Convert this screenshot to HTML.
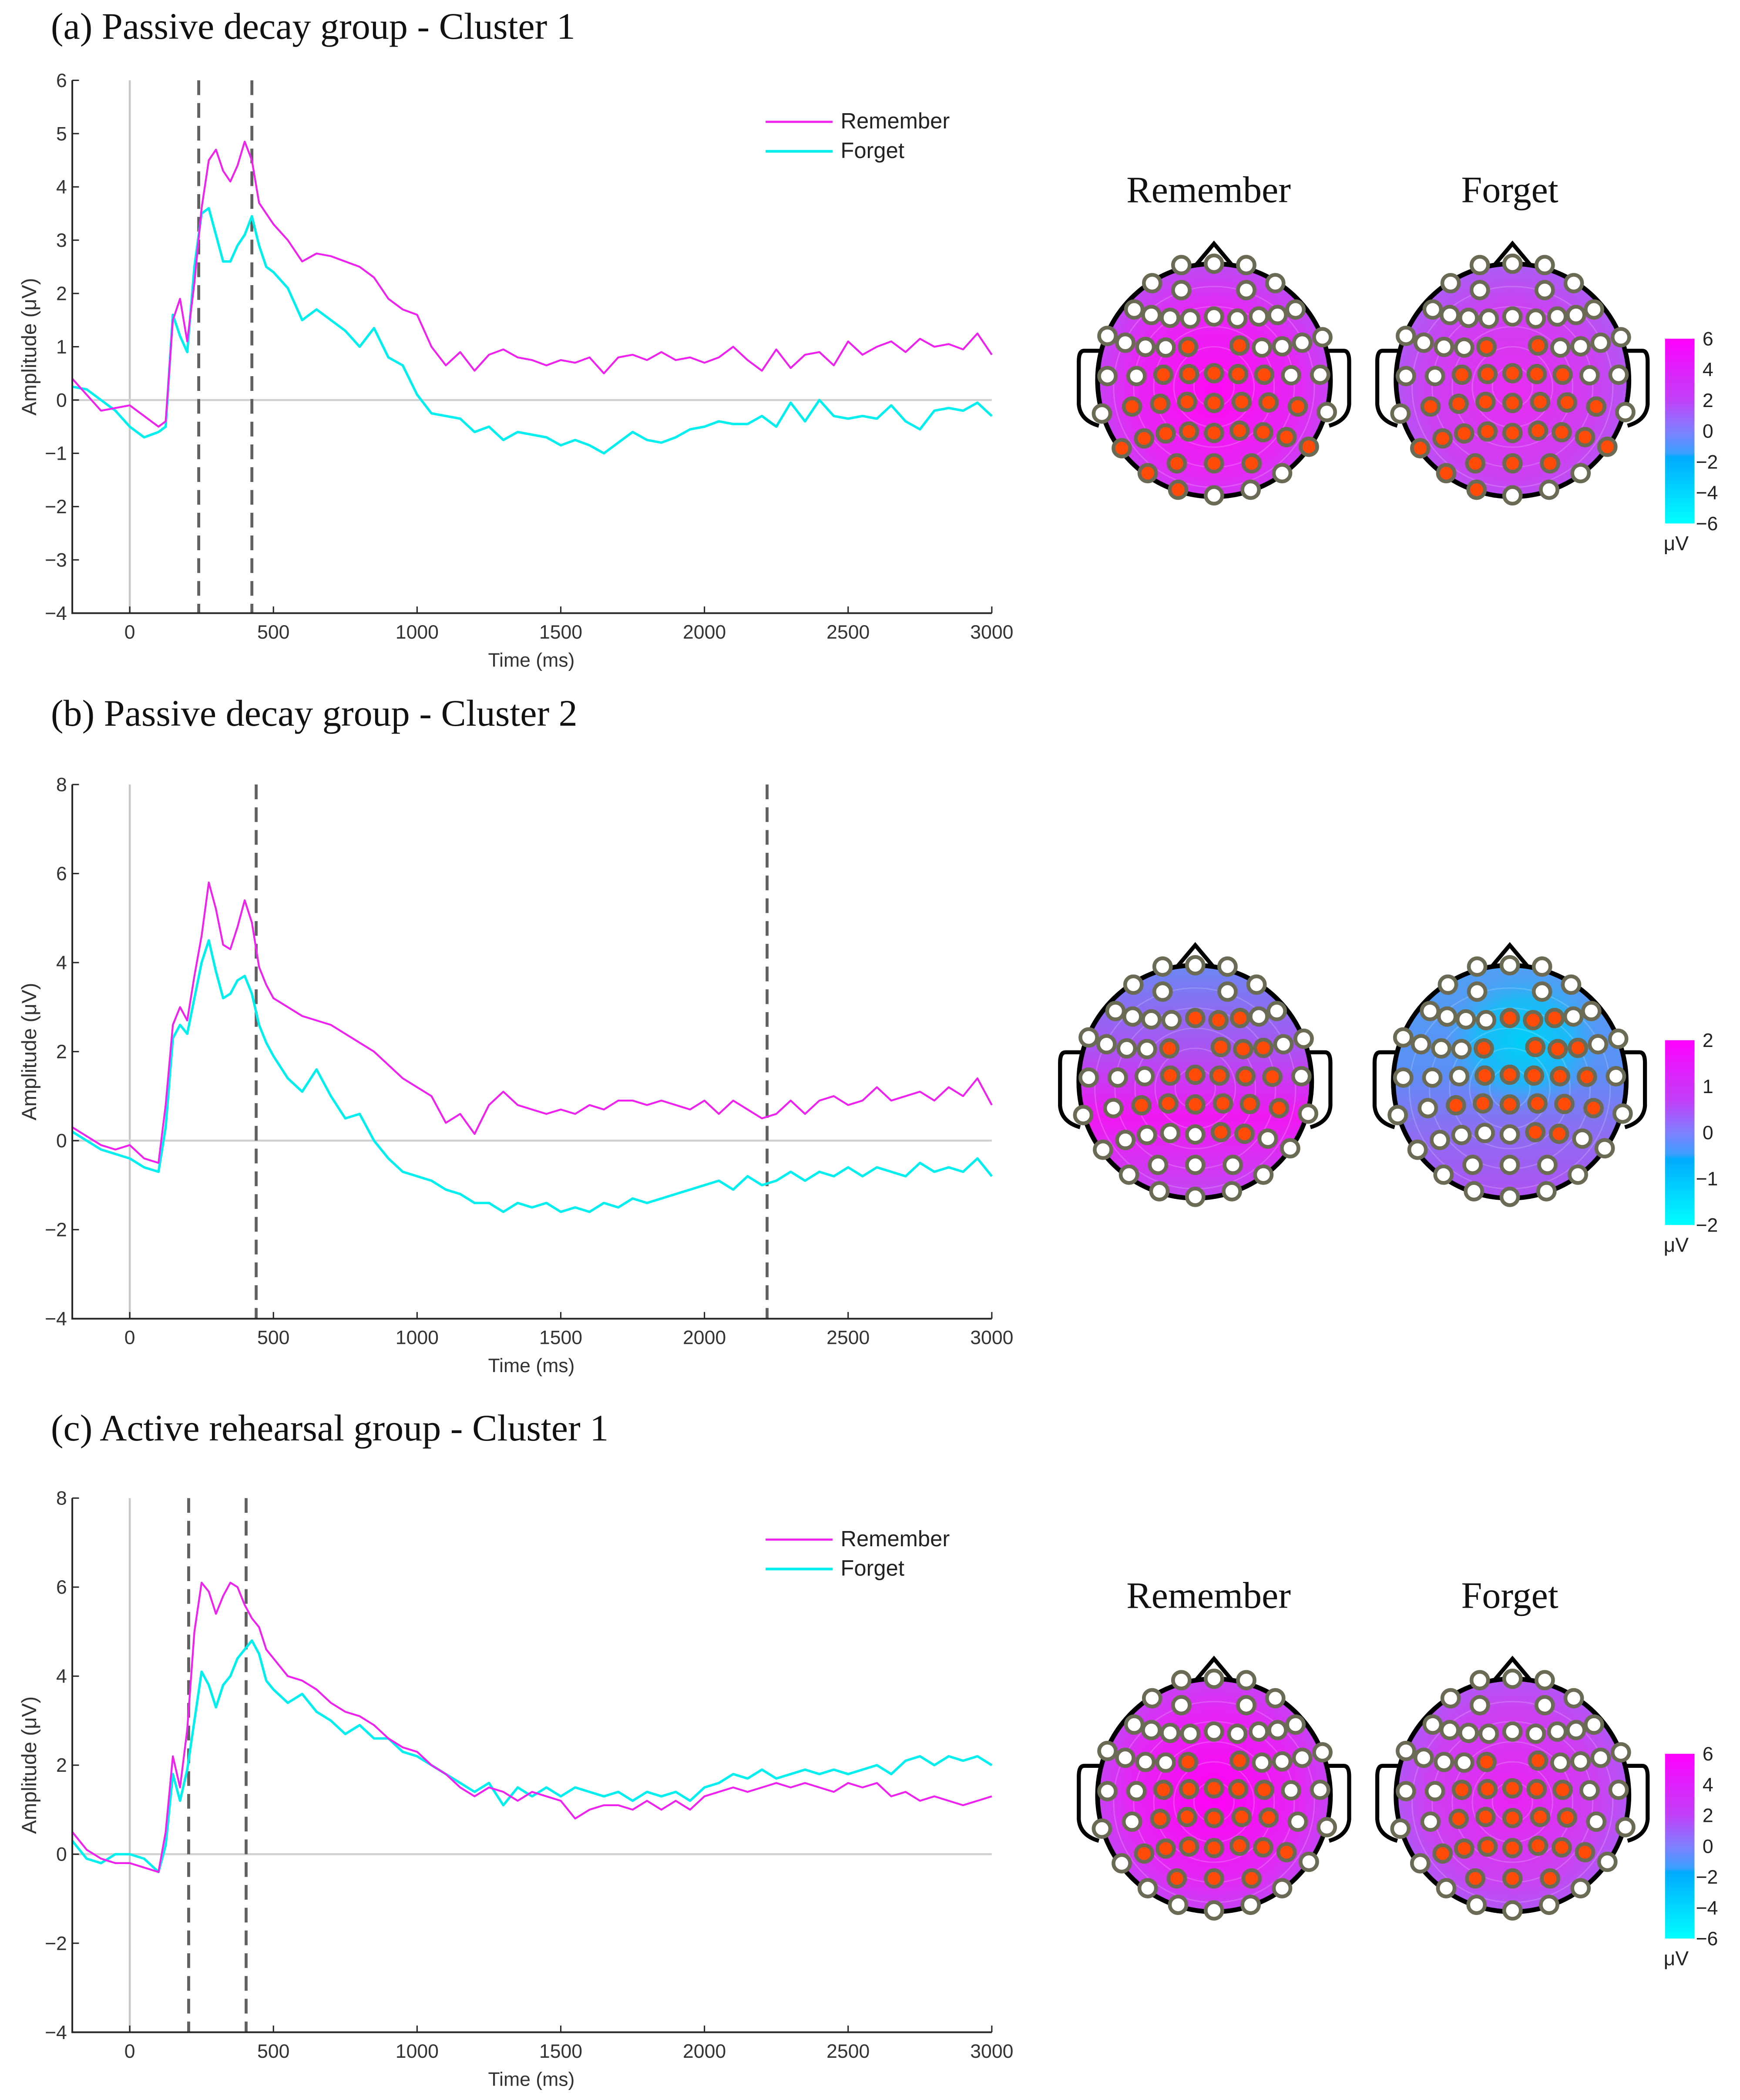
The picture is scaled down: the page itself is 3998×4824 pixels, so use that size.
<!DOCTYPE html>
<html><head><meta charset="utf-8"><style>
html,body{margin:0;padding:0;background:#fff;}
svg{display:block;}
</style></head><body>
<svg id="fig" xmlns="http://www.w3.org/2000/svg" width="3998" height="4824" viewBox="0 0 1300 1568.6">
<defs>
<linearGradient id="cbar" x1="0" y1="0" x2="0" y2="1">
<stop offset="0" stop-color="#ff00ff"/><stop offset="0.33" stop-color="#c040f8"/><stop offset="0.5" stop-color="#8080ff"/><stop offset="0.62" stop-color="#3aa0ff"/><stop offset="0.64" stop-color="#00aaff"/><stop offset="1" stop-color="#00ffff"/>
</linearGradient>
<radialGradient id="gA1" cx="0.5" cy="0.55" r="0.6"><stop offset="0" stop-color="#ff08f4"/><stop offset="0.6" stop-color="#e428f4"/><stop offset="1" stop-color="#b055f2"/></radialGradient>
<radialGradient id="gA2" cx="0.5" cy="0.55" r="0.6"><stop offset="0" stop-color="#e82cf2"/><stop offset="0.6" stop-color="#cc40f2"/><stop offset="1" stop-color="#a266f4"/></radialGradient>
<linearGradient id="gB1" x1="0" y1="0" x2="0" y2="1"><stop offset="0" stop-color="#6a88f2"/><stop offset="0.35" stop-color="#a855f2"/><stop offset="0.65" stop-color="#f018f2"/><stop offset="1" stop-color="#c048f2"/></linearGradient>
<linearGradient id="gB2" x1="0" y1="0" x2="0" y2="1"><stop offset="0" stop-color="#50a0f4"/><stop offset="0.45" stop-color="#5a90f4"/><stop offset="0.7" stop-color="#8a70f2"/><stop offset="1" stop-color="#b050f2"/></linearGradient>
<radialGradient id="gB2c" cx="0.5" cy="0.5" r="0.5"><stop offset="0" stop-color="#00d0f8" stop-opacity="1"/><stop offset="0.6" stop-color="#10c0f8" stop-opacity="0.8"/><stop offset="1" stop-color="#30b0f8" stop-opacity="0"/></radialGradient>
<radialGradient id="gC1" cx="0.5" cy="0.5" r="0.6"><stop offset="0" stop-color="#ff00f4"/><stop offset="0.6" stop-color="#e426f4"/><stop offset="1" stop-color="#b055f2"/></radialGradient>
<radialGradient id="gC2" cx="0.5" cy="0.5" r="0.6"><stop offset="0" stop-color="#ea22f2"/><stop offset="0.6" stop-color="#cc40f2"/><stop offset="1" stop-color="#a066f6"/></radialGradient>
</defs>
</svg>
<script>
// ---- data ----
const times = [-200,-150,-100,-50,0,50,100,125,150,175,200,225,250,275,300,325,350,375,400,425,450,475,500,550,600,650,700,750,800,850,900,950,1000,1050,1100,1150,1200,1250,1300,1350,1400,1450,1500,1550,1600,1650,1700,1750,1800,1850,1900,1950,2000,2050,2100,2150,2200,2250,2300,2350,2400,2450,2500,2550,2600,2650,2700,2750,2800,2850,2900,2950,3000];
const rememberA = [0.4,0.1,-0.2,-0.15,-0.1,-0.3,-0.5,-0.4,1.5,1.9,1.1,2.2,3.6,4.5,4.7,4.3,4.1,4.4,4.85,4.5,3.7,3.5,3.3,3.0,2.6,2.75,2.7,2.6,2.5,2.3,1.9,1.7,1.6,1.0,0.65,0.9,0.55,0.85,0.95,0.8,0.75,0.65,0.75,0.7,0.8,0.5,0.8,0.85,0.75,0.9,0.75,0.8,0.7,0.8,1.0,0.75,0.55,0.95,0.6,0.85,0.9,0.65,1.1,0.85,1.0,1.1,0.9,1.15,1.0,1.05,0.95,1.25,0.85];
const forgetA = [0.25,0.2,0.0,-0.2,-0.5,-0.7,-0.6,-0.5,1.6,1.2,0.9,2.5,3.5,3.6,3.1,2.6,2.6,2.9,3.1,3.45,2.9,2.5,2.4,2.1,1.5,1.7,1.5,1.3,1.0,1.35,0.8,0.65,0.1,-0.25,-0.3,-0.35,-0.6,-0.5,-0.75,-0.6,-0.65,-0.7,-0.85,-0.75,-0.85,-1.0,-0.8,-0.6,-0.75,-0.8,-0.7,-0.55,-0.5,-0.4,-0.45,-0.45,-0.3,-0.5,-0.05,-0.4,0.0,-0.3,-0.35,-0.3,-0.35,-0.1,-0.4,-0.55,-0.2,-0.15,-0.2,-0.05,-0.3];
const rememberB = [0.3,0.1,-0.1,-0.2,-0.1,-0.4,-0.5,0.8,2.6,3.0,2.7,3.7,4.6,5.8,5.2,4.4,4.3,4.8,5.4,4.9,3.9,3.5,3.2,3.0,2.8,2.7,2.6,2.4,2.2,2.0,1.7,1.4,1.2,1.0,0.4,0.6,0.15,0.8,1.1,0.8,0.7,0.6,0.7,0.6,0.8,0.7,0.9,0.9,0.8,0.9,0.8,0.7,0.9,0.6,0.9,0.7,0.5,0.6,0.9,0.6,0.9,1.0,0.8,0.9,1.2,0.9,1.0,1.1,0.9,1.2,1.0,1.4,0.8];
const forgetB = [0.2,0.0,-0.2,-0.3,-0.4,-0.6,-0.7,0.3,2.3,2.6,2.4,3.2,4.0,4.5,3.8,3.2,3.3,3.6,3.7,3.3,2.6,2.2,1.9,1.4,1.1,1.6,1.0,0.5,0.6,0.0,-0.4,-0.7,-0.8,-0.9,-1.1,-1.2,-1.4,-1.4,-1.6,-1.4,-1.5,-1.4,-1.6,-1.5,-1.6,-1.4,-1.5,-1.3,-1.4,-1.3,-1.2,-1.1,-1.0,-0.9,-1.1,-0.8,-1.0,-0.9,-0.7,-0.9,-0.7,-0.8,-0.6,-0.8,-0.6,-0.7,-0.8,-0.5,-0.7,-0.6,-0.7,-0.4,-0.8];
const rememberC = [0.5,0.1,-0.1,-0.2,-0.2,-0.3,-0.4,0.5,2.2,1.5,2.8,5.0,6.1,5.9,5.4,5.8,6.1,6.0,5.6,5.3,5.1,4.6,4.4,4.0,3.9,3.7,3.4,3.2,3.1,2.9,2.6,2.4,2.3,2.0,1.8,1.5,1.3,1.5,1.4,1.2,1.4,1.3,1.2,0.8,1.0,1.1,1.1,1.0,1.2,1.0,1.2,1.0,1.3,1.4,1.5,1.4,1.5,1.6,1.5,1.6,1.5,1.4,1.6,1.5,1.6,1.3,1.4,1.2,1.3,1.2,1.1,1.2,1.3];
const forgetC = [0.3,-0.1,-0.2,0.0,0.0,-0.1,-0.4,0.2,1.8,1.2,1.9,3.0,4.1,3.8,3.3,3.8,4.0,4.4,4.6,4.8,4.5,3.9,3.7,3.4,3.6,3.2,3.0,2.7,2.9,2.6,2.6,2.3,2.2,2.0,1.8,1.6,1.4,1.6,1.1,1.5,1.3,1.5,1.3,1.5,1.4,1.3,1.4,1.2,1.4,1.3,1.4,1.2,1.5,1.6,1.8,1.7,1.9,1.7,1.8,1.9,1.8,1.9,1.8,1.9,2.0,1.8,2.1,2.2,2.0,2.2,2.1,2.2,2.0];
const xTicks = [0,500,1000,1500,2000,2500,3000];
const yTicksA = [-4,-3,-2,-1,0,1,2,3,4,5,6];
const yTicksBC = [-4,-2,0,2,4,6,8];
const markersA = [240,425];
const markersB = [440,2218];
const markersC = [205,405];
const cbarLabelsA = ['6','4','2','0','\u22122','\u22124','\u22126'];
const cbarLabelsB = ['2','1','0','\u22121','\u22122'];

const NS='http://www.w3.org/2000/svg';
const svg=document.getElementById('fig');
function mk(tag,attrs,parent){const e=document.createElementNS(NS,tag);for(const k in attrs)e.setAttribute(k,attrs[k]);(parent||svg).appendChild(e);return e;}
function txt(s,attrs,parent){const e=mk('text',attrs,parent);e.textContent=s;return e;}

const SANS='"Liberation Sans", Arial, sans-serif';
const SERIF='"Liberation Serif", "Times New Roman", serif';

function panel(cfg){
  const g=mk('g',{});
  
  
  const t=txt(cfg.title,{x:38,y:cfg.titleY,'font-family':SERIF,'font-size':28,fill:'#111'},g);
  
  
  const L=54,R=741,T=cfg.top,B=cfg.bottom,ymin=cfg.ymin,ymax=cfg.ymax;
  const X=t=>L+(t+200)/3200*(R-L);
  const Y=v=>B-(v-ymin)/(ymax-ymin)*(B-T);
  const z1=mk('line',{x1:X(0),x2:X(0),y1:T,y2:B,stroke:'#c8c8c8','stroke-width':1.5},g);
  
  
  const z2=mk('line',{x1:L,x2:R,y1:Y(0),y2:Y(0),stroke:'#d0d0d0','stroke-width':1.5},g);
  
  
  cfg.markers.forEach(m=>{
    const d=mk('line',{x1:X(m),x2:X(m),y1:T,y2:B,stroke:'#606060','stroke-width':2.2,'stroke-dasharray':'11,6'},g);
    
    
  });
  [[cfg.forget,'#00f0f0','forget-line',1.8],[cfg.remember,'#f020f0','remember-line',1.4]].forEach(([arr,col,nm,w])=>{
    let d='';arr.forEach((v,i)=>{d+=(i?'L':'M')+X(times[i]).toFixed(2)+','+Y(v).toFixed(2);});
    const p=mk('path',{d:d,fill:'none',stroke:col,'stroke-width':w,'stroke-linejoin':'round'},g);
    
    
  });
  const ax=mk('path',{d:`M${L},${T}L${L},${B}L${R},${B}`,fill:'none',stroke:'#262626','stroke-width':1.3},g);
  
  
  cfg.yTicks.forEach(v=>{
    mk('line',{x1:L,x2:L+5,y1:Y(v),y2:Y(v),stroke:'#262626','stroke-width':1},g);
    const s=txt(String(v).replace('-','\u2212'),{x:L-4,y:Y(v)+5,'text-anchor':'end','font-family':SANS,'font-size':14.5,fill:'#333'},g);
    
    
  });
  xTicks.forEach(v=>{
    mk('line',{x1:X(v),x2:X(v),y1:B,y2:B-5,stroke:'#262626','stroke-width':1},g);
    const s=txt(String(v),{x:X(v),y:B+19,'text-anchor':'middle','font-family':SANS,'font-size':14.5,fill:'#333'},g);
    
    
  });
  const xl=txt('Time (ms)',{x:397,y:B+40,'text-anchor':'middle','font-family':SANS,'font-size':14.5,fill:'#333'},g);
  
  
  const cy=(T+B)/2;
  const yl=txt('Amplitude (\u03bcV)',{x:0,y:0,transform:`translate(27,${cy}) rotate(-90)`,'text-anchor':'middle','font-family':SANS,'font-size':15.5,fill:'#333'},g);
  
  
  if(cfg.legend){
    const lg=mk('g',{},g);
    
    
    const ly=cfg.legendY;
    mk('line',{x1:572,x2:622,y1:ly,y2:ly,stroke:'#f020f0','stroke-width':1.6},lg);
    const r1=txt('Remember',{x:628,y:ly+5,'font-family':SANS,'font-size':16.5,fill:'#222'},lg);
    
    
    mk('line',{x1:572,x2:622,y1:ly+22,y2:ly+22,stroke:'#00f0f0','stroke-width':2},lg);
    const r2=txt('Forget',{x:628,y:ly+27,'font-family':SANS,'font-size':16.5,fill:'#222'},lg);
    
    
  }
}

panel({name:'panel-a-erp',title:'(a) Passive decay group - Cluster 1',titleY:29,top:60,bottom:458,ymin:-4,ymax:6,yTicks:yTicksA,markers:markersA,remember:rememberA,forget:forgetA,legend:true,legendY:91});
panel({name:'panel-b-erp',title:'(b) Passive decay group - Cluster 2',titleY:542,top:586,bottom:985,ymin:-4,ymax:8,yTicks:yTicksBC,markers:markersB,remember:rememberB,forget:forgetB,legend:false});
panel({name:'panel-c-erp',title:'(c) Active rehearsal group - Cluster 1',titleY:1076,top:1119,bottom:1518,ymin:-4,ymax:8,yTicks:yTicksBC,markers:markersC,remember:rememberC,forget:forgetC,legend:true,legendY:1150});

// ---- topographic maps ----
const elec=[[305,475],[378,470],[450,475],[240,540],[515,540],[305,565],[450,565],
[200,635],[238,655],[280,665],[325,668],[378,660],[430,668],[478,660],[520,655],[560,635],
[140,730],[180,755],[225,770],[270,772],[320,770],[435,765],[485,772],[530,768],[575,755],[620,735],
[140,875],[205,875],[265,870],[322,868],[378,865],[432,868],[490,870],[550,872],[615,870],
[128,1010],[195,985],[258,975],[318,968],[378,972],[440,968],[500,970],[565,985],[630,1005],
[172,1135],[222,1100],[270,1082],[322,1075],[378,1080],[435,1072],[488,1078],[540,1095],[590,1130],
[295,1190],[378,1190],[462,1190],[230,1225],[530,1225],[298,1285],[378,1305],[460,1285]];
const flagsA='000'+'0000'+'000000000'+'0000110000'+'001111100'+'011111110'+'111111111'+'111'+'10'+'100';
const flagsB='000'+'0000'+'000011100'+'0000111100'+'000111110'+'001111110'+'000001100'+'000'+'00'+'000';
const flagsC='000'+'0000'+'000000000'+'0000110000'+'001111100'+'001111100'+'011111110'+'111'+'00'+'000';

function head(cx,cy,fill,flags,name,cyan){
  const g=mk('g',{});
  
  
  const r=87;
  mk('path',{d:`M${cx-r+2},${cy-22} L${cx-r-10},${cy-22} Q${cx-r-14},${cy-22} ${cx-r-14},${cy-14} L${cx-r-14},${cy+18} Q${cx-r-13},${cy+30} ${cx-r+1},${cy+34}`,fill:'none',stroke:'#000','stroke-width':3},g);
  mk('path',{d:`M${cx+r-2},${cy-22} L${cx+r+10},${cy-22} Q${cx+r+14},${cy-22} ${cx+r+14},${cy-14} L${cx+r+14},${cy+18} Q${cx+r+13},${cy+30} ${cx+r-1},${cy+34}`,fill:'none',stroke:'#000','stroke-width':3},g);
  mk('path',{d:`M${cx-16},${cy-r+4} L${cx},${cy-r-15} L${cx+16},${cy-r+4}`,fill:'none',stroke:'#000','stroke-width':3},g);
  mk('circle',{cx:cx,cy:cy,r:r,fill:fill,stroke:'#000','stroke-width':3.5},g);
  if(cyan){mk('ellipse',{cx:cx+10,cy:cy-30,rx:58,ry:52,fill:'url(#gB2c)'},g);}
  for(let k=1;k<=5;k++){mk('circle',{cx:cx,cy:cy+5,r:k*15,fill:'none',stroke:'#fff','stroke-opacity':0.18,'stroke-width':1},g);}
  elec.forEach((p,i)=>{
    const ex=cx+(p[0]-378)/260*r, ey=cy+(p[1]-890)/420*r;
    const c=mk('circle',{cx:ex.toFixed(1),cy:ey.toFixed(1),r:6.2,fill:flags[i]==='1'?'#ff4a08':'#ffffff',stroke:'#6b6b55','stroke-width':2.8},g);
    
    
  });
}
function cbar(y0,labels,name){
  const g=mk('g',{});
  
  
  mk('rect',{x:1244,y:y0,width:22,height:138,fill:'url(#cbar)'},g);
  labels.forEach((s,i)=>{
    const ty=y0+i*138/(labels.length-1)+5;
    const t=txt(s,{x:s.startsWith('\u2212')?1267:1272,y:ty,'font-family':SANS,'font-size':14.5,fill:'#222'},g);
    
    
  });
  const u=txt('\u03bcV',{x:1243,y:y0+158,'font-family':SANS,'font-size':15,fill:'#222'},g);
  
  
}
function mapTitles(y){
  const a=txt('Remember',{x:903,y:y,'text-anchor':'middle','font-family':SERIF,'font-size':28,fill:'#111'});
  
  
  const b=txt('Forget',{x:1128,y:y,'text-anchor':'middle','font-family':SERIF,'font-size':28,fill:'#111'});
  
  
}
mapTitles(151);
head(907,284,'url(#gA1)',flagsA,'topomap-a-remember',false);
head(1130,284,'url(#gA2)',flagsA,'topomap-a-forget',false);
cbar(253,cbarLabelsA,'colorbar-a');
head(893,808,'url(#gB1)',flagsB,'topomap-b-remember',false);
head(1128,808,'url(#gB2)',flagsB,'topomap-b-forget',true);
cbar(777,cbarLabelsB,'colorbar-b');
mapTitles(1201);
head(907,1341,'url(#gC1)',flagsC,'topomap-c-remember',false);
head(1130,1341,'url(#gC2)',flagsC,'topomap-c-forget',false);
cbar(1310,cbarLabelsA,'colorbar-c');
</script>
</body></html>
